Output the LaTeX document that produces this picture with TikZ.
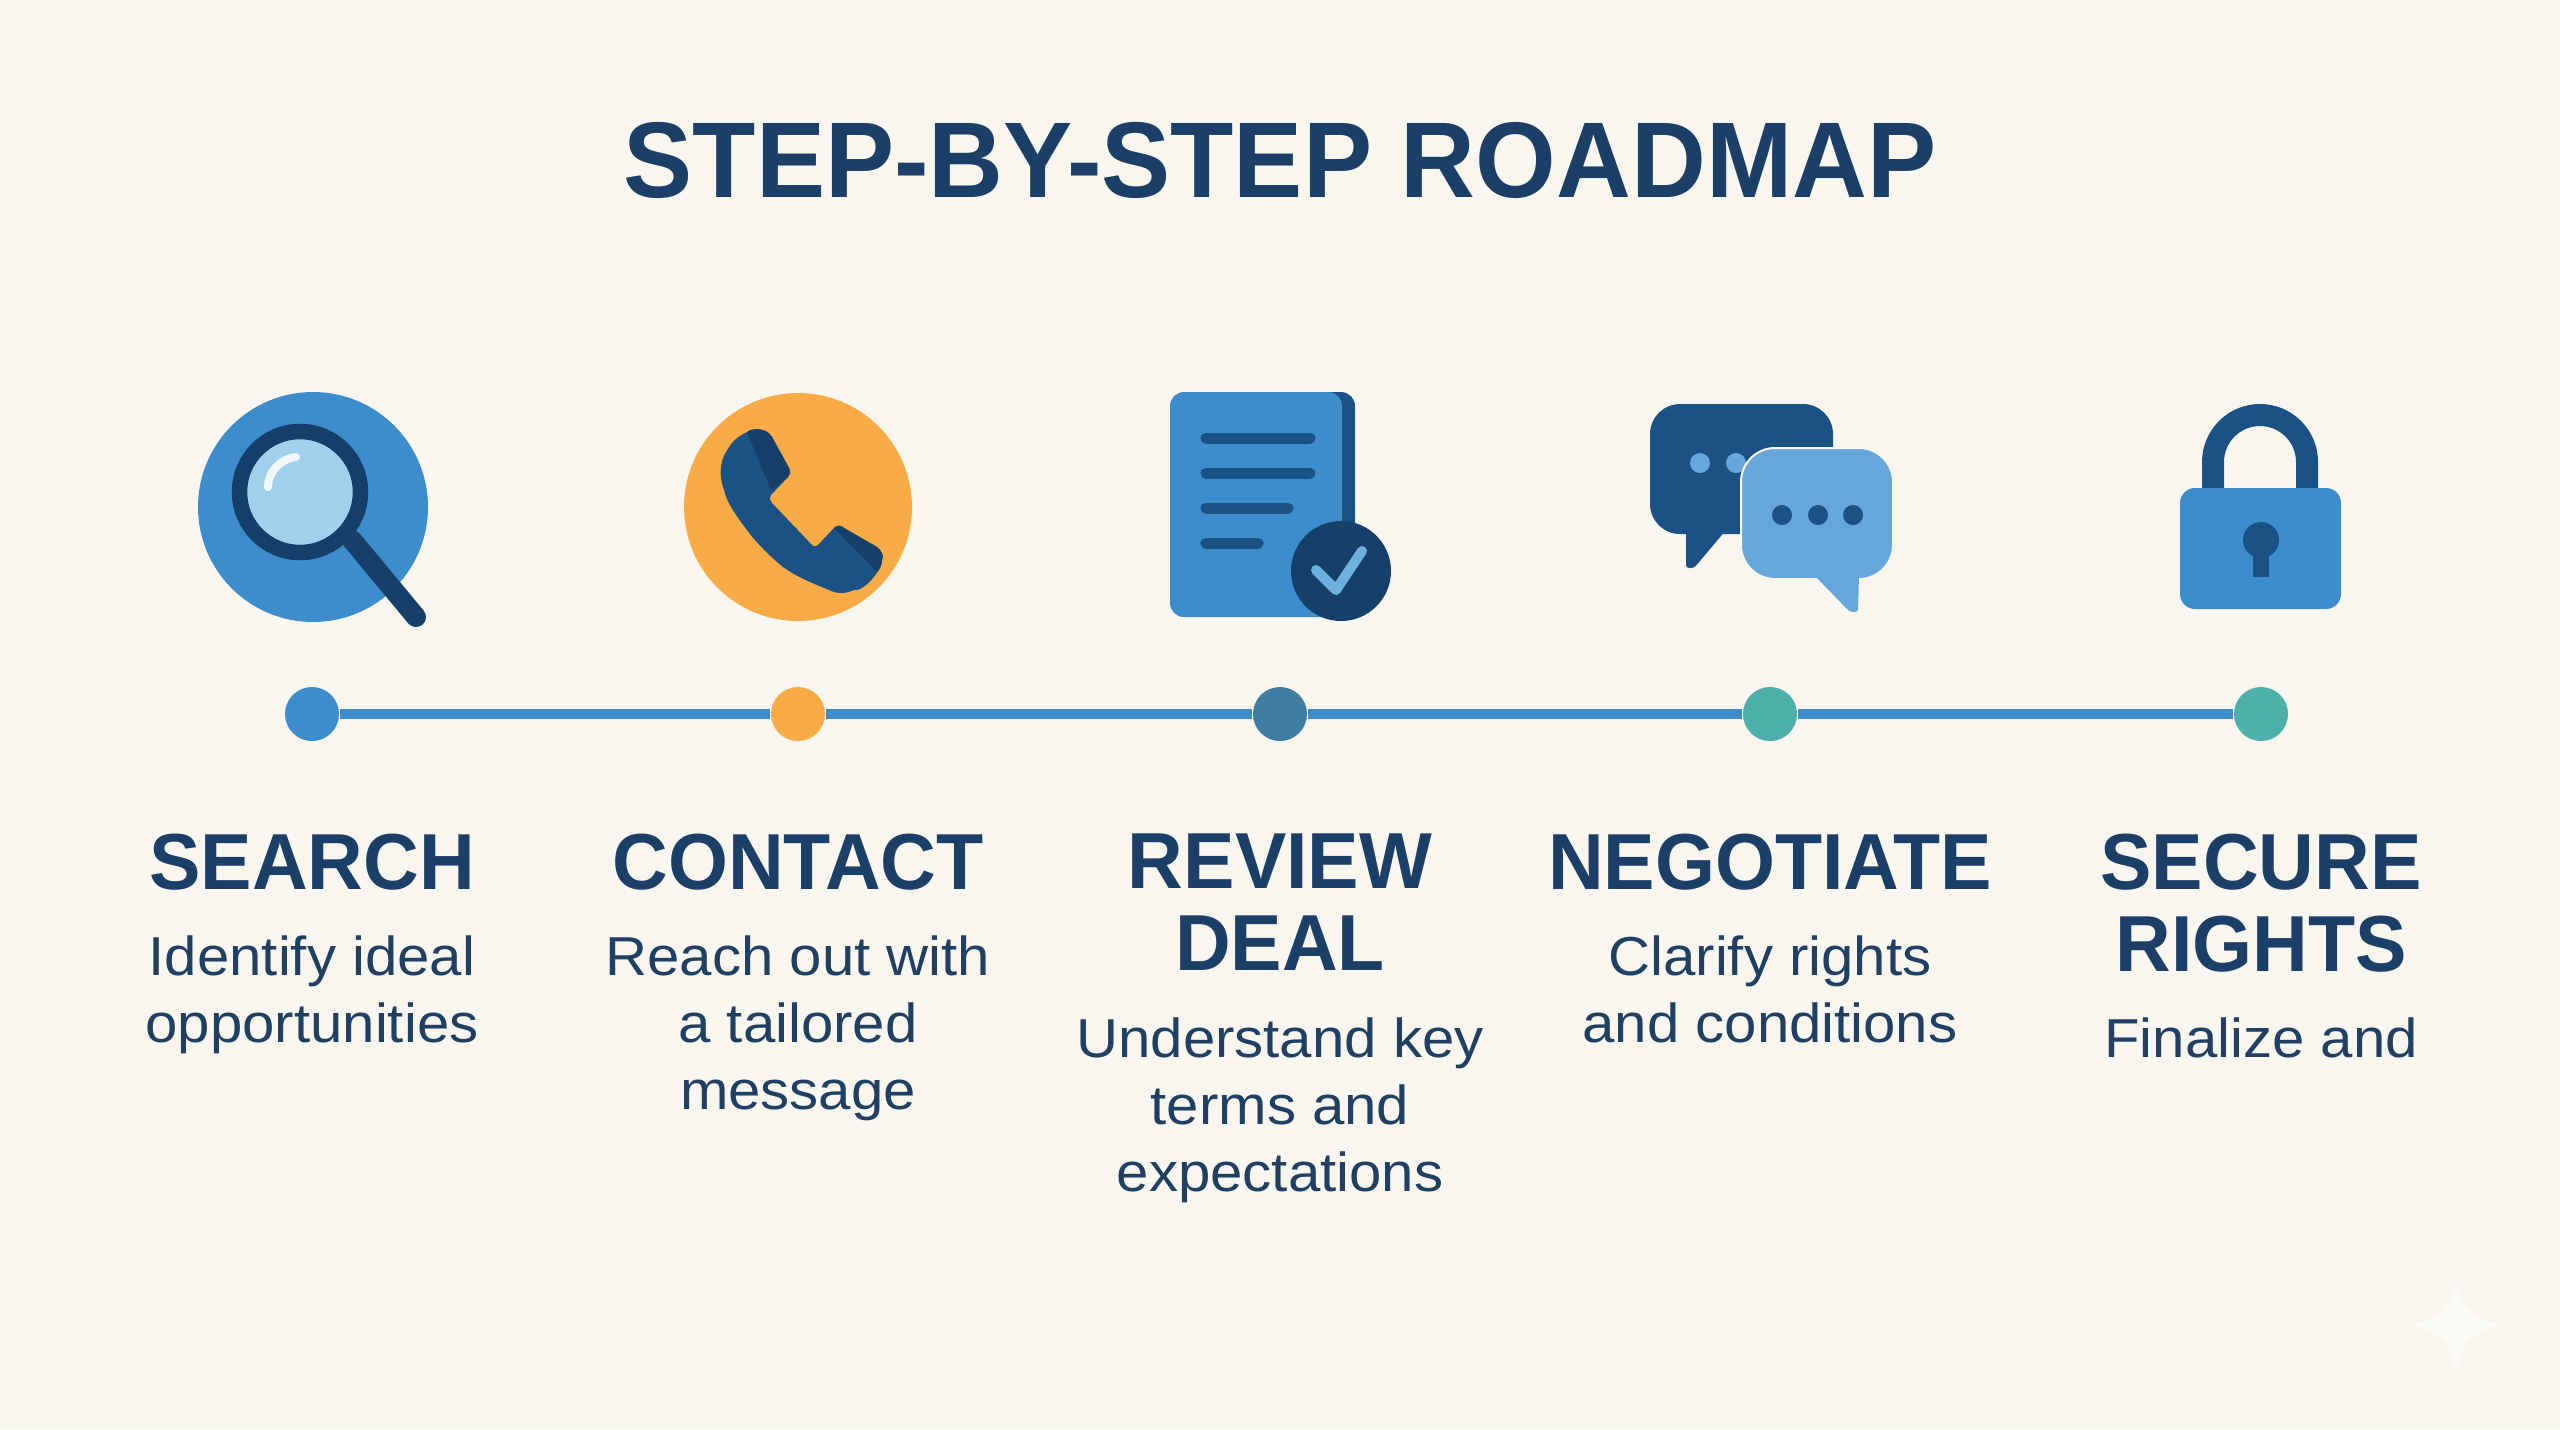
\documentclass[tikz,border=0pt]{standalone}
\usepackage{fontspec}
\setmainfont{Liberation Sans}
\newfontfamily\titlefont[FakeStretch=0.963]{Liberation Sans}
\newfontfamily\headfont[FakeStretch=0.97]{Liberation Sans}
\newfontfamily\bodyfont[FakeStretch=1.06]{Liberation Sans}
\definecolor{bgc}{HTML}{F9F6F0}
\definecolor{bluem}{HTML}{3D8CCB}
\definecolor{darkb}{HTML}{1A5285}
\definecolor{darker}{HTML}{163F69}
\definecolor{navy}{HTML}{1B3F66}
\definecolor{orangem}{HTML}{F9AB46}
\definecolor{lens}{HTML}{A2CFEB}
\definecolor{lightb}{HTML}{67A6DB}
\definecolor{tickc}{HTML}{6CB0E0}
\definecolor{nodethree}{HTML}{3F7DA3}
\definecolor{nodeteal}{HTML}{4DB0AA}
\definecolor{spark}{HTML}{FCFAF7}
\definecolor{bodyc}{HTML}{1F3F63}
\tikzset{
  x=0.01cm,y=-0.01cm,
  tnode/.style={circle,inner sep=0,minimum size=0.54cm},
  titletxt/.style={font=\titlefont\fontsize{30.6pt}{36pt}\selectfont\bfseries,text=navy,inner sep=0,anchor=north},
  headtxt/.style={font=\headfont\fontsize{22.6pt}{23.3pt}\selectfont\bfseries,text=navy,inner sep=0,anchor=north,align=center},
  bodytxt/.style={font=\bodyfont\fontsize{15.6pt}{19.05pt}\selectfont,text=bodyc,inner sep=0,anchor=north,align=center},
  rail/.style={line width=0.1cm,bluem}
}
\begin{document}
\begin{tikzpicture}
\useasboundingbox (0,0) rectangle (2560,1429);
\fill[bgc] (0,0) rectangle (2560,1429);
% sparkle
\fill[spark] (2456,1280) .. controls (2462,1308) and (2473,1319) .. (2501,1325) .. controls (2473,1331) and (2462,1342) .. (2456,1370) .. controls (2450,1342) and (2439,1331) .. (2411,1325) .. controls (2439,1319) and (2450,1308) .. (2456,1280) -- cycle;
% title
\node[titletxt] (title) at (1280,122) {STEP-BY-STEP ROADMAP};
% search icon
\fill[bluem] (313,507) circle [radius=115];
\draw[line width=0.2cm,line cap=round,darker] (352,540) -- (416,617);
\fill[lens] (300,492) circle [radius=60];
\draw[line width=0.155cm,darker] (300,492) circle [radius=60.5];
\draw[line width=0.08cm,line cap=round,white!85!lens] (268,487) .. controls (268,472) and (280,459) .. (296,457);
% phone icon
\fill[orangem] (798,507) circle [radius=114];
\fill[darkb] (747,432) .. controls (752,428) and (766,427) .. (772,437) -- (789,468) .. controls (791,472) and (790,475) .. (788,477) -- (771,495) .. controls (769,498) and (770,501) .. (772,503) -- (813,546) .. controls (815,547) and (817,546) .. (818,545) -- (834,528) .. controls (837,525) and (841,525) .. (844,528) -- (877,547) .. controls (882,551) and (884,556) .. (882,560) .. controls (882,570) and (864,592) .. (854,590) .. controls (845,594) and (837,594) .. (829,590) .. controls (812,583) and (797,577) .. (783,567) .. controls (770,556) and (758,545) .. (747,530) .. controls (737,517) and (727,503) .. (724,490) .. controls (721,482) and (720,474) .. (721,467) .. controls (722,457) and (727,450) .. (732,443) .. controls (736,438) and (741,435) .. (747,432) -- cycle;
\fill[darker] (747,432) .. controls (752,428) and (766,427) .. (772,437) -- (789,468) .. controls (791,472) and (790,475) .. (788,477) -- (771,490) -- cycle;
\fill[darker] (834,528) .. controls (837,525) and (841,525) .. (844,528) -- (877,547) .. controls (882,551) and (884,556) .. (882,560) .. controls (882,565) and (880,569) .. (877,572) -- cycle;
% document icon
\fill[darkb] (1300,392) -- (1341,392) arc [start angle=-90,end angle=0,radius=14] -- (1355,560) -- (1300,560) -- cycle;
\fill[bluem,rounded corners=0.14cm] (1170,392) -- (1342,392) -- (1342,617) -- (1170,617) -- cycle;
\foreach \yy/\xx in {438/1316,473/1316,508/1294,543/1264}{
  \draw[line width=0.11cm,line cap=round,darkb] (1206,\yy) -- (\xx-6,\yy);
}
\fill[darker] (1341,571) circle [radius=50];
\draw[line width=0.1cm,line cap=round,line join=round,tickc] (1316,570) -- (1336,590) -- (1362,551);
% chat icon
\fill[darkb,rounded corners=0.3cm] (1650,404) rectangle (1833,534);
\fill[darkb,rounded corners=0.03cm] (1686,530) -- (1686,568) -- (1694,568) -- (1726,530) -- cycle;
\fill[lightb] (1700,463) circle [radius=10] (1736,463) circle [radius=10];
\filldraw[lightb,draw=bgc,line width=0.02cm,rounded corners=0.34cm] (1741,448) rectangle (1893,579);
\fill[lightb,rounded corners=0.03cm] (1814,575) -- (1850,612) -- (1858,612) -- (1859,575) -- cycle;
\fill[darkb] (1782,515) circle [radius=10] (1818,515) circle [radius=10] (1853,515) circle [radius=10];
% lock icon
\draw[line width=0.22cm,darkb] (2213,495) -- (2213,462) arc [start angle=180,end angle=360,radius=47] -- (2307,495);
\fill[bluem,rounded corners=0.15cm] (2180,488) rectangle (2341,609);
\fill[darkb] (2261,540) circle [radius=18];
\fill[darkb] (2253,545) -- (2269,545) -- (2269,577) -- (2253,577) -- cycle;
% timeline
\node[tnode,fill=bluem] (n1) at (312,714) {};
\node[tnode,fill=orangem] (n2) at (798,714) {};
\node[tnode,fill=nodethree] (n3) at (1280,714) {};
\node[tnode,fill=nodeteal] (n4) at (1770,714) {};
\node[tnode,fill=nodeteal] (n5) at (2261,714) {};
\draw[rail] (n1) -- (n2);
\draw[rail] (n2) -- (n3);
\draw[rail] (n3) -- (n4);
\draw[rail] (n4) -- (n5);
% headings
\node[headtxt] (h1) at (312,833) {SEARCH};
\node[headtxt] (h2) at (798,833) {CONTACT};
\node[headtxt] (h3) at (1280,833) {REVIEW\\DEAL};
\node[headtxt] (h4) at (1770,833) {NEGOTIATE};
\node[headtxt] (h5) at (2261,833) {SECURE\\RIGHTS};
% bodies
\node[bodytxt] (b1) at (312,935) {Identify ideal\\opportunities};
\node[bodytxt] (b2) at (798,935) {Reach out with\\a tailored\\message};
\node[bodytxt] (b3) at (1280,1017) {Understand key\\terms and\\expectations};
\node[bodytxt] (b4) at (1770,935) {Clarify rights\\and conditions};
\node[bodytxt] (b5) at (2261,1017) {Finalize and};
\end{tikzpicture}
\end{document}
